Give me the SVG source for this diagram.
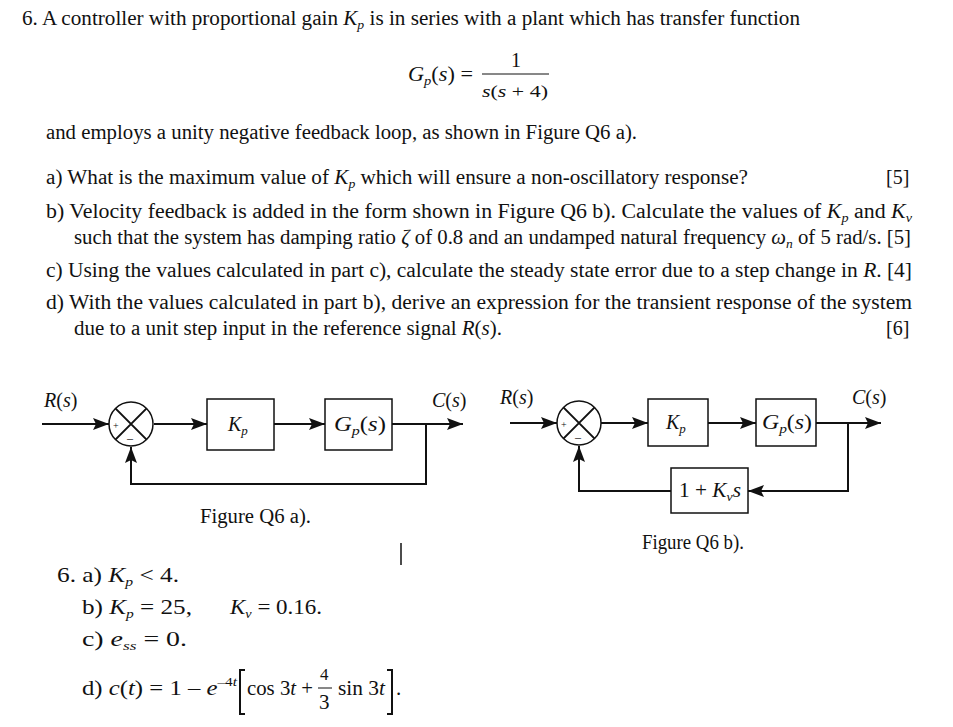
<svg xmlns="http://www.w3.org/2000/svg" width="953" height="727" viewBox="0 0 953 727">
<style>
text{font-family:"Liberation Serif",serif;font-size:20px;fill:#111}
.i{font-style:italic}
.s{font-size:13px}
.ln{stroke:#111;stroke-width:2;fill:none}
.bx{stroke:#111;stroke-width:1.5;fill:#fff}
</style>
<defs>
<marker id="ab" markerWidth="16" markerHeight="12" refX="16" refY="6" orient="auto" markerUnits="userSpaceOnUse"><path d="M0,0L16,6L0,12L3,6z" fill="#111"/></marker></defs>
<rect width="953" height="727" fill="#fff"/>
<g id="question">
<text x="22" y="25" textLength="778" lengthAdjust="spacingAndGlyphs">6.  A controller with proportional gain <tspan class="i">K</tspan><tspan class="i s" dy="4">p</tspan><tspan dy="-4"> is in series with a plant which has transfer function</tspan></text>
<text x="408" y="81" textLength="65" lengthAdjust="spacingAndGlyphs"><tspan class="i">G</tspan><tspan class="i s" dy="4">p</tspan><tspan dy="-4">(</tspan><tspan class="i">s</tspan>) =</text>
<text x="511" y="67" font-size="17">1</text>
<line x1="482" y1="74" x2="549" y2="74" stroke="#111" stroke-width="1"/>
<text x="482" y="97" style="font-size:17px" textLength="66" lengthAdjust="spacingAndGlyphs"><tspan class="i">s</tspan>(<tspan class="i">s</tspan> + 4)</text>
<text x="46" y="139" textLength="591" lengthAdjust="spacingAndGlyphs">and employs a unity negative feedback loop, as shown in Figure Q6 a).</text>
<text x="46" y="184" textLength="702" lengthAdjust="spacingAndGlyphs">a)  What is the maximum value of <tspan class="i">K</tspan><tspan class="i s" dy="4">p</tspan><tspan dy="-4"> which will ensure a non-oscillatory response?</tspan></text>
<text x="886" y="184">[5]</text>
<text x="46" y="218" textLength="866" lengthAdjust="spacingAndGlyphs">b)  Velocity feedback is added in the form shown in Figure Q6 b). Calculate the values of <tspan class="i">K</tspan><tspan class="i s" dy="4">p</tspan><tspan dy="-4"> and </tspan><tspan class="i">K</tspan><tspan class="i s" dy="4">v</tspan></text>
<text x="74" y="244" textLength="837" lengthAdjust="spacingAndGlyphs">such that the system has damping ratio <tspan class="i">ζ</tspan> of 0.8 and an undamped natural frequency <tspan class="i">ω</tspan><tspan class="i s" dy="4">n</tspan><tspan dy="-4"> of 5 rad/s. [5]</tspan></text>
<text x="46" y="277" textLength="866" lengthAdjust="spacingAndGlyphs">c)  Using the values calculated in part c), calculate the steady state error due to a step change in <tspan class="i">R</tspan>.   [4]</text>
<text x="46" y="309" textLength="866" lengthAdjust="spacingAndGlyphs">d)  With the values calculated in part b), derive an expression for the transient response of the system</text>
<text x="74" y="335" textLength="428" lengthAdjust="spacingAndGlyphs">due to a unit step input in the reference signal <tspan class="i">R</tspan>(<tspan class="i">s</tspan>).</text>
<text x="886" y="335">[6]</text>
</g>
<g id="connectors">
<line class="ln" x1="42" y1="424" x2="109" y2="424" marker-end="url(#ab)"/>
<line class="ln" x1="154" y1="424" x2="207" y2="424" marker-end="url(#ab)"/>
<line class="ln" x1="274" y1="424" x2="325" y2="424" marker-end="url(#ab)"/>
<line class="ln" x1="392" y1="424" x2="463" y2="424" marker-end="url(#ab)"/>
<polyline class="ln" points="426,424 426,484 131,484 131,447" marker-end="url(#ab)"/>
<line class="ln" x1="510" y1="423" x2="557" y2="423" marker-end="url(#ab)"/>
<line class="ln" x1="601" y1="423" x2="648" y2="423" marker-end="url(#ab)"/>
<line class="ln" x1="708" y1="423" x2="756" y2="423" marker-end="url(#ab)"/>
<line class="ln" x1="816" y1="423" x2="881" y2="423" marker-end="url(#ab)"/>
<polyline class="ln" points="848,423 848,491 748,491" marker-end="url(#ab)"/>
<polyline class="ln" points="671,491 579,491 579,446" marker-end="url(#ab)"/>
</g>
<g id="sumA"><circle cx="131" cy="424" r="22" class="bx" stroke-width="2"/><path class="ln" d="M115.4,408.4L146.6,439.6M146.6,408.4L115.4,439.6"/><text x="113" y="429" style="font-size:10px">+</text><text x="127" y="442" style="font-size:12px">–</text></g>
<g id="KpA"><rect class="bx" x="207" y="399" width="67" height="51"/><text x="228" y="431" class="i">K<tspan class="s" dy="4">p</tspan></text></g>
<g id="GpA"><rect class="bx" x="325" y="399" width="67" height="51"/><text x="334" y="431" class="i" textLength="52" lengthAdjust="spacingAndGlyphs">G<tspan class="s" dy="4">p</tspan><tspan dy="-4" font-style="normal">(</tspan>s<tspan font-style="normal">)</tspan></text></g>
<text x="44" y="407" class="i">R<tspan font-style="normal">(</tspan>s<tspan font-style="normal">)</tspan></text>
<text x="432" y="407" class="i">C<tspan font-style="normal">(</tspan>s<tspan font-style="normal">)</tspan></text>
<text x="200" y="523" textLength="111" lengthAdjust="spacingAndGlyphs">Figure Q6 a).</text>
<g id="sumB"><circle cx="579" cy="423" r="22" class="bx" stroke-width="2"/><path class="ln" d="M563.4,407.4L594.6,438.6M594.6,407.4L563.4,438.6"/><text x="561" y="428" style="font-size:10px">+</text><text x="575" y="441" style="font-size:12px">–</text></g>
<g id="KpB"><rect class="bx" x="648" y="399" width="60" height="47"/><text x="666" y="429" class="i">K<tspan class="s" dy="4">p</tspan></text></g>
<g id="GpB"><rect class="bx" x="756" y="399" width="60" height="47"/><text x="762" y="429" class="i" textLength="50" lengthAdjust="spacingAndGlyphs">G<tspan class="s" dy="4">p</tspan><tspan dy="-4" font-style="normal">(</tspan>s<tspan font-style="normal">)</tspan></text></g>
<g id="KvB"><rect class="bx" x="671" y="468" width="77" height="45"/><text x="679" y="497" textLength="62" lengthAdjust="spacingAndGlyphs">1 + <tspan class="i">K</tspan><tspan class="i s" dy="4">v</tspan><tspan class="i" dy="-4">s</tspan></text></g>
<text x="500" y="404" class="i">R<tspan font-style="normal">(</tspan>s<tspan font-style="normal">)</tspan></text>
<text x="852" y="404" class="i">C<tspan font-style="normal">(</tspan>s<tspan font-style="normal">)</tspan></text>
<text x="642" y="549" textLength="102" lengthAdjust="spacingAndGlyphs">Figure Q6 b).</text>
<line x1="401" y1="543" x2="401" y2="565" stroke="#111" stroke-width="1.5"/>
<g id="answers">
<text x="57" y="582" style="font-size:21px" textLength="122" lengthAdjust="spacingAndGlyphs">6.  a)  <tspan class="i">K</tspan><tspan class="i s" dy="4">p</tspan><tspan dy="-4"> &lt; 4.</tspan></text>
<text x="82" y="614" style="font-size:21px" textLength="110" lengthAdjust="spacingAndGlyphs">b)  <tspan class="i">K</tspan><tspan class="i s" dy="4">p</tspan><tspan dy="-4"> = 25,</tspan></text>
<text x="230" y="614" style="font-size:21px" textLength="92" lengthAdjust="spacingAndGlyphs"><tspan class="i">K</tspan><tspan class="i s" dy="4">v</tspan><tspan dy="-4"> = 0.16.</tspan></text>
<text x="82" y="646" style="font-size:21px" textLength="105" lengthAdjust="spacingAndGlyphs">c)  <tspan class="i">e</tspan><tspan class="i s" dy="4">ss</tspan><tspan dy="-4"> = 0.</tspan></text>
<text x="82" y="695" style="font-size:21px" textLength="155" lengthAdjust="spacingAndGlyphs">d)  <tspan class="i">c</tspan>(<tspan class="i">t</tspan>) = 1 – <tspan class="i">e</tspan><tspan class="s" dy="-9">–4<tspan class="i">t</tspan></tspan></text>
<path class="ln" stroke-width="1.5" d="M245,670h-5v44h5M387,670h5v44h-5"/>
<text x="247" y="695" style="font-size:21px" textLength="66" lengthAdjust="spacingAndGlyphs">cos 3<tspan class="i">t</tspan> +</text>
<text x="320" y="680" style="font-size:17px">4</text>
<line x1="318" y1="688" x2="332" y2="688" stroke="#111" stroke-width="1"/>
<text x="319" y="709" style="font-size:21px">3</text>
<text x="338" y="695" style="font-size:21px" textLength="47" lengthAdjust="spacingAndGlyphs">sin 3<tspan class="i">t</tspan></text>
<text x="396" y="695" style="font-size:21px">.</text>
</g>
</svg>
